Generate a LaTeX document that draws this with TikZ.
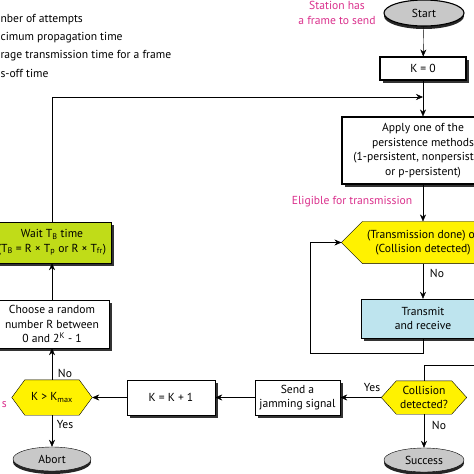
\documentclass[tikz,border=0pt]{standalone}
\usepackage{fontspec}
\setmainfont{PT Sans}
\usetikzlibrary{arrows.meta,shadows,calc,shapes.geometric}
\definecolor{mypink}{RGB}{218,48,140}
\definecolor{hexyellow}{RGB}{255,242,0}
\definecolor{waitgreen}{RGB}{192,220,24}
\definecolor{txblue}{RGB}{190,228,238}
\definecolor{ovalgray}{RGB}{200,200,200}
\pgfdeclarelayer{bg}
\pgfsetlayers{bg,main}
\tikzset{
  box/.style={draw, fill=white, align=center, inner sep=0pt,
    drop shadow={shadow xshift=2.5pt, shadow yshift=-2.5pt, fill=black!80, opacity=1}},
  oval/.style={ellipse, draw, fill=ovalgray, inner sep=0pt,
    drop shadow={shadow xshift=0pt, shadow yshift=-3pt, fill=black!85, opacity=1}},
  hexnode/.style={draw=none, align=center, inner sep=0pt},
  note/.style={text=mypink, align=center, inner sep=0pt},
  lbl/.style={inner sep=0pt},
  legend/.style={anchor=west, inner sep=0pt},
  conn/.style={-{Stealth[length=7pt,width=6pt]}}
}
\newcommand{\hexfill}[3]{%
  \begin{pgfonlayer}{bg}
  \draw[fill=#3] (#1.west) -- ($(#1.north west)+(#2,0)$) -- ($(#1.north east)+(-#2,0)$)
    -- (#1.east) -- ($(#1.south east)+(-#2,0)$) -- ($(#1.south west)+(#2,0)$) -- cycle;
  \end{pgfonlayer}}
\begin{document}
\begin{tikzpicture}[x=1pt,y=-1pt, line width=1.1pt, font=\fontsize{11.6}{14.5}\selectfont]
\useasboundingbox (0,0) rectangle (474,474);
\clip (0,0) rectangle (474,474);

% legend (cropped)
\node[legend] (lg1) at (0,20) {nber of attempts};
\node[legend] (lg2) at (0,38) {cimum propagation time};
\node[legend] (lg3) at (0,56) {rage transmission time for a frame};
\node[legend] (lg4) at (0,73) {s-off time};

% right column
\node[oval, minimum width=80pt, minimum height=26pt] (start) at (424,13) {Start};
\node[note] (station) at (337,13) {Station has\\a frame to send};
\node[box, minimum width=86pt, minimum height=23pt] (k0) at (423,68.5) {K = 0};
\coordinate (join) at (423,97);
\node[box, minimum width=162pt, minimum height=67pt] (apply) at (423,150.5)
  {Apply one of the\\persistence methods\\(1-persistent, nonpersistent,\\or p-persistent)};
\node[note] (elig) at (352,202) {Eligible for transmission};
\node[hexnode, minimum width=162pt, minimum height=41pt] (trans) at (423,242.5)
  {(Transmission done) or\\(Collision detected)};
\hexfill{trans}{21}{hexyellow}
\node[box, fill=txblue, minimum width=124pt, minimum height=39pt] (tx) at (423,318.5)
  {Transmit\\and receive};
\coordinate (loopc) at (310,353);
\coordinate (feed) at (480,365);
\node[hexnode, minimum width=85pt, minimum height=33pt] (coll) at (424,397.5)
  {Collision\\detected?};
\hexfill{coll}{15}{hexyellow}
\node[oval, minimum width=80pt, minimum height=24pt] (success) at (424,460) {Success};

% bottom row
\node[box, minimum width=85pt, minimum height=35pt] (jam) at (297.5,397.5)
  {Send a\\jamming signal};
\node[box, minimum width=88pt, minimum height=35pt] (kk1) at (171,397.5) {K = K + 1};
\node[hexnode, minimum width=80pt, minimum height=35pt] (kmax) at (52,397.5)
  {K > K\textsubscript{max}};
\hexfill{kmax}{13}{hexyellow}
\node[oval, minimum width=78pt, minimum height=24pt] (abort) at (52,459) {Abort};
\node[note, anchor=east] (sfrag) at (7,405) {s};

% left column
\node[box, minimum width=114pt, minimum height=48pt] (choose) at (52,324)
  {Choose a random\\number R between\\0 and 2\textsuperscript{K} - 1};
\node[box, fill=waitgreen, minimum width=118pt, minimum height=41pt] (wait) at (52,242.5)
  {Wait T\textsubscript{B} time\\(T\textsubscript{B} = R × T\textsubscript{p} or R × T\textsubscript{fr})};

% connectors
\draw[conn] (start) -- (k0);
\draw[conn] (k0) -- (apply);
\draw[conn] (wait.north) |- (join);
\draw[conn] (apply) -- (trans);
\draw[conn] (trans.south) -- (tx.north);
\draw[conn] (tx.south) |- (loopc) |- (trans.west);
\draw (feed) -| (coll.north);
\draw[conn] (coll.west) -- (jam.east);
\draw[conn] (coll.south) -- (success.north);
\draw[conn] (jam.west) -- (kk1.east);
\draw[conn] (kk1.west) -- (kmax.east);
\draw[conn] (kmax.north) -- (choose.south);
\draw[conn] (kmax.south) -- (abort.north);
\draw[conn] (choose.north) -- (wait.south);

% labels
\node[lbl] (no1) at (437,273) {No};
\node[lbl] (yes1) at (372,388) {Yes};
\node[lbl] (no2) at (439,425) {No};
\node[lbl] (no3) at (65,373) {No};
\node[lbl] (yes2) at (65,425) {Yes};
\end{tikzpicture}
\end{document}
